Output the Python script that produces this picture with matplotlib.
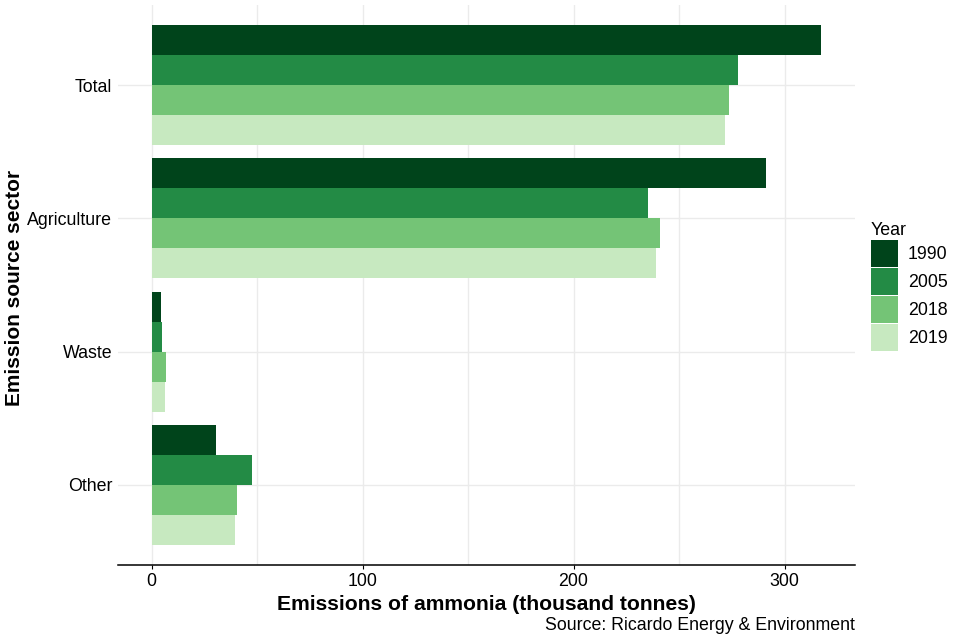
import numpy as np
import matplotlib.pyplot as plt

sectors = ["Total", "Agriculture", "Waste", "Other"]
years = ["1990", "2005", "2018", "2019"]
v1990 = [317.5, 291.0, 4.3, 30.8]
v2005 = [277.7, 235.4, 5.2, 47.4]
v2018 = [273.9, 240.8, 7.1, 40.3]
v2019 = [272.0, 238.9, 6.6, 39.8]
colours = ["#00441b", "#238b45", "#74c476", "#c7e9c0"]

plt.rcParams['font.family'] = ['Liberation Sans', 'DejaVu Sans']

W, H = 960, 640
fig = plt.figure(figsize=(9.6, 6.4), dpi=100)
ax = fig.add_axes([118 / W, 75 / H, (855 - 118) / W, (565 - 5) / H])

pos = np.arange(len(sectors))
bw = 0.9 / 4
allv = [v1990, v2005, v2018, v2019]
for i, (yr, vals) in enumerate(zip(years, allv)):
    ax.barh(pos - 0.45 + bw * (i + 0.5), vals, height=bw, color=colours[i],
            label=yr, zorder=2)

xmax = max(max(v) for v in allv)
ax.set_xlim(-0.05 * xmax, 1.05 * xmax)
ax.set_ylim(3.6, -0.6)
ax.set_yticks(pos)
ax.set_yticklabels(sectors)
ax.set_xticks([0, 100, 200, 300])
ax.set_xticks([50, 150, 250], minor=True)
ax.grid(True, which='both', axis='x', color='#ebebeb', lw=1, zorder=0)
ax.grid(True, axis='y', color='#ebebeb', lw=1, zorder=0)
for s in ['top', 'right', 'left']:
    ax.spines[s].set_visible(False)
ax.spines['bottom'].set_color('black')
ax.spines['bottom'].set_linewidth(1.1)
ax.tick_params(axis='x', which='major', length=3, color='black', labelsize=12.8, pad=3)
ax.tick_params(axis='x', which='minor', length=0)
ax.tick_params(axis='y', length=0, labelsize=12.8, pad=4)

ax.set_xlabel("Emissions of ammonia (thousand tonnes)", fontsize=15.2,
              fontweight='bold', labelpad=3.5)
fig.text(15 / W, 1 - 288 / H, "Emission source sector", rotation=90,
         fontsize=15, fontweight='bold', ha='center', va='center')
fig.text(855 / W, 1 - 626 / H, "Source: Ricardo Energy & Environment",
         fontsize=12.8, ha='right', va='center')

leg = ax.legend(title="Year", loc='upper left', bbox_to_anchor=(871 / W, 1 - 222 / H),
                bbox_transform=fig.transFigure, frameon=False, fontsize=12.8,
                title_fontsize=12.8, handlelength=1.52, handleheight=1.96,
                handletextpad=0.55, labelspacing=0.056, borderaxespad=0,
                borderpad=0)
leg._legend_box.align = "left"

fig.savefig("out.png", dpi=100)
